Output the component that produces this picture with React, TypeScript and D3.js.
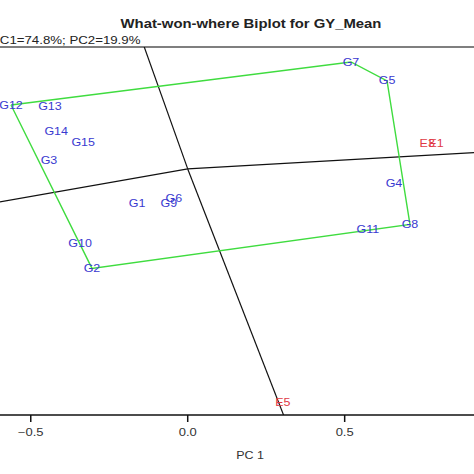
import React from 'react';
import * as d3 from 'd3';

const genotypes = ['G1', 'G2', 'G3', 'G4', 'G5', 'G6', 'G7', 'G8', 'G9', 'G10', 'G11', 'G12', 'G13', 'G14', 'G15'];
const genoPC1 = [-0.161, -0.305, -0.442, 0.657, 0.635, -0.044, 0.520, 0.708, -0.060, -0.343, 0.574, -0.563, -0.439, -0.419, -0.333];
const genoPC2 = [-0.182, -0.532, 0.043, -0.080, 0.471, -0.160, 0.572, -0.297, -0.182, -0.396, -0.326, 0.342, 0.337, 0.203, 0.144];

const environments = ['E3', 'E1', 'E5'];
const envPC1 = [0.763, 0.791, 0.303];
const envPC2 = [0.139, 0.134, -1.251];

const hullOrder = ['G12', 'G7', 'G5', 'G8', 'G2'];
const raySides = [['G12', 'G7'], ['G5', 'G8'], ['G8', 'G2'], ['G2', 'G12']];

const xTicks = [-0.5, 0, 0.5];
const titleText = 'What-won-where Biplot for GY_Mean';
const subtitleText = 'PC1=74.8%; PC2=19.9%';
const xAxisLabel = 'PC 1';

const W = 474;
const H = 474;
const FONT = '"Liberation Sans", Arial, sans-serif';

function T(props: any) {
  const { x, y, sx = 1.3, children, ...rest } = props;
  return (
    <text transform={`translate(${x},${y}) scale(${sx},1)`} fontFamily={FONT} {...rest}>
      {children}
    </text>
  );
}

export default function App() {
  const x = d3.scaleLinear().domain([-0.598, 0.912]).range([0, W]);
  const y = d3.scaleLinear().domain([-1.316, 0.652]).range([415, 47]);

  const pt = (name: string): [number, number] => {
    const i = genotypes.indexOf(name);
    return [genoPC1[i], genoPC2[i]];
  };

  const hull = d3.line<[number, number]>().x(d => x(d[0])).y(d => y(d[1]));
  const hullPts = hullOrder.map(pt);
  const hullPath = hull([...hullPts, hullPts[0]]) as string;

  const rays = raySides.map(([a, b]) => {
    const A = pt(a);
    const B = pt(b);
    const dx = B[0] - A[0];
    const dy = B[1] - A[1];
    const t = -(A[0] * dx + A[1] * dy) / (dx * dx + dy * dy);
    const fx = A[0] + t * dx;
    const fy = A[1] + t * dy;
    const len = Math.hypot(fx, fy);
    return [[0, 0], [(fx / len) * 10, (fy / len) * 10]] as [number, number][];
  });

  return (
    <svg width={W} height={H} style={{ position: 'absolute', left: 0, top: 0, background: '#fff' }}>
      <defs>
        <clipPath id="plotClip">
          <rect x={0} y={47} width={W} height={368} />
        </clipPath>
      </defs>
      <rect x={0} y={0} width={W} height={H} fill="#fff" />

      <T x={251} y={28} sx={1.24} textAnchor="middle" fontSize={12} fontWeight="bold" fill="#222">
        {titleText}
      </T>
      <T x={-9} y={44} sx={1.3} textAnchor="start" fontSize={10.2} fill="#222">
        {subtitleText}
      </T>

      <line x1={0} x2={W} y1={47} y2={47} stroke="#555" strokeWidth={1.5} />

      <g clipPath="url(#plotClip)">
        {rays.map((r, i) => (
          <path key={i} d={hull(r) as string} stroke="#111" strokeWidth={1.2} fill="none" />
        ))}
        <path d={hullPath} stroke="#3fdc3f" strokeWidth={1.4} fill="none" />
        {genotypes.map((g, i) => (
          <T key={g} x={x(genoPC1[i])} y={y(genoPC2[i])} sx={1.25} dy="0.36em" textAnchor="middle" fontSize={10} fill="#3a3ad0">
            {g}
          </T>
        ))}
        {environments.map((e, i) => (
          <T key={e} x={x(envPC1[i])} y={y(envPC2[i])} sx={1.25} dy="0.36em" textAnchor="middle" fontSize={10} fill="#e03a45">
            {e}
          </T>
        ))}
      </g>

      <line x1={0} x2={W} y1={415} y2={415} stroke="#111" strokeWidth={1.5} />
      {xTicks.map(t => (
        <g key={t}>
          <line x1={x(t)} x2={x(t)} y1={415} y2={422} stroke="#111" strokeWidth={1.5} />
          <T x={x(t)} y={436} sx={1.3} textAnchor="middle" fontSize={10} fill="#333">
            {d3.format('.1f')(t)}
          </T>
        </g>
      ))}
      <T x={250} y={459} sx={1.25} textAnchor="middle" fontSize={10} fill="#333">
        {xAxisLabel}
      </T>
    </svg>
  );
}
